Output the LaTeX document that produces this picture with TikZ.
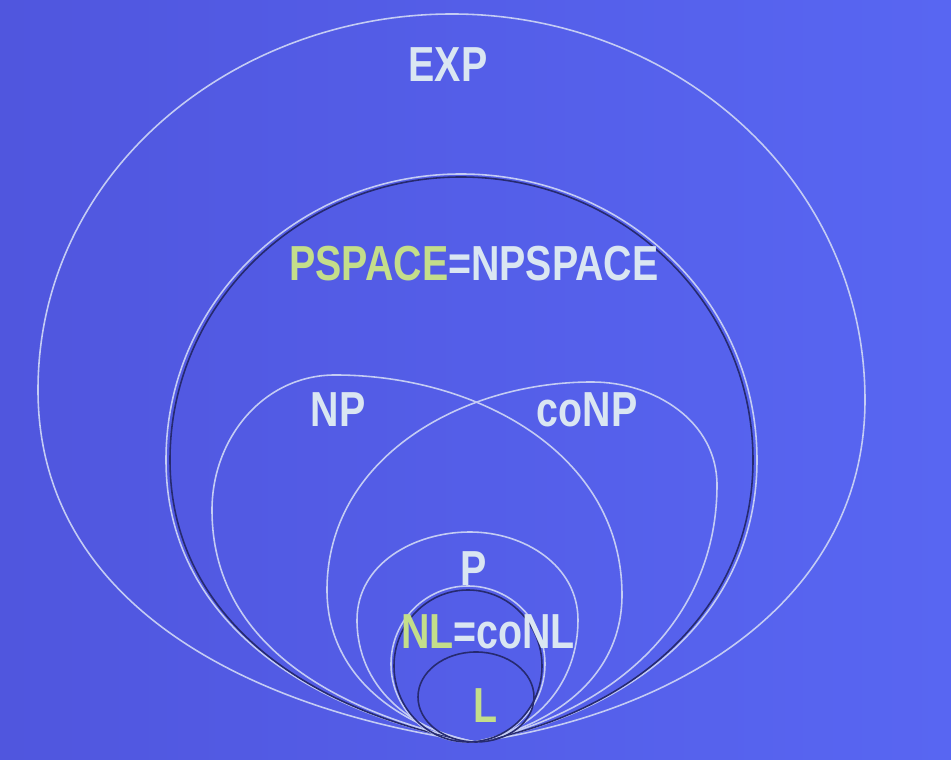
\documentclass[tikz,border=0pt]{standalone}
\usepackage{fontspec}
\setmainfont{Liberation Sans}[FakeStretch=0.8]
\definecolor{slideL}{RGB}{80,86,222}
\definecolor{slideR}{RGB}{88,102,242}
\definecolor{ringlight}{RGB}{196,204,244}
\definecolor{ringdark}{RGB}{38,42,112}
\definecolor{pale}{RGB}{218,230,242}
\definecolor{lemon}{RGB}{196,222,138}
\begin{document}
\begin{tikzpicture}[x=0.02cm,y=0.02cm,
  ring/.style={draw=ringlight,line width=0.9pt},
  darkring/.style={draw=ringdark,line width=0.9pt},
  cls/.style={text=pale,font=\bfseries\fontsize{28}{32}\selectfont,inner sep=0pt}]
\shade[left color=slideL,right color=slideR] (0,0) rectangle (951,760);
\coordinate (B) at (475,18);
% EXP
\draw[ring] (B) to[out=172,in=-90] (38,370) to[out=90,in=180] (452,746)
  to[out=0,in=90] (865,360) to[out=-90,in=8] (B);
% PSPACE
\draw[ring] (B) to[out=170,in=-90] (166,300) to[out=90,in=180] (461,586)
  to[out=0,in=90] (757,300) to[out=-90,in=10] (B);
\draw[darkring] (B) to[out=170,in=-90] (170,300) to[out=90,in=180] (461,583)
  to[out=0,in=90] (753,300) to[out=-90,in=10] (B);
% NP and coNP
\draw[ring] (B) to[out=168,in=-90] (212,250) to[out=90,in=180] (335,385)
  to[out=0,in=90] (622,165) to[out=-90,in=12] (B);
\draw[ring] (B) to[out=168,in=-90] (327,170) to[out=90,in=180] (592,378)
  to[out=0,in=90] (717,275) to[out=-90,in=12] (B);
% P
\draw[ring] (B) to[out=170,in=-90] (357,140) to[out=90,in=180] (470,228)
  to[out=0,in=90] (578,140) to[out=-90,in=10] (B);
% NL, L
\draw[ring] (468,96) ellipse (77 and 78);
\draw[darkring] (468,94) ellipse (74 and 76);
\draw[darkring] (476,63) ellipse (58 and 45);
\node[cls] (exp) at (448,695) {EXP};
\node[cls] (pspace) at (474,496) {\textcolor{lemon}{PSPACE}=NPSPACE};
\node[cls] (np) at (338,350) {NP};
\node[cls] (conp) at (587,350) {coNP};
\node[cls] (p) at (474,191) {P};
\node[cls] (nl) at (488,128) {\textcolor{lemon}{NL}=coNL};
\node[cls,text=lemon] (l) at (486,54) {L};
\end{tikzpicture}
\end{document}
